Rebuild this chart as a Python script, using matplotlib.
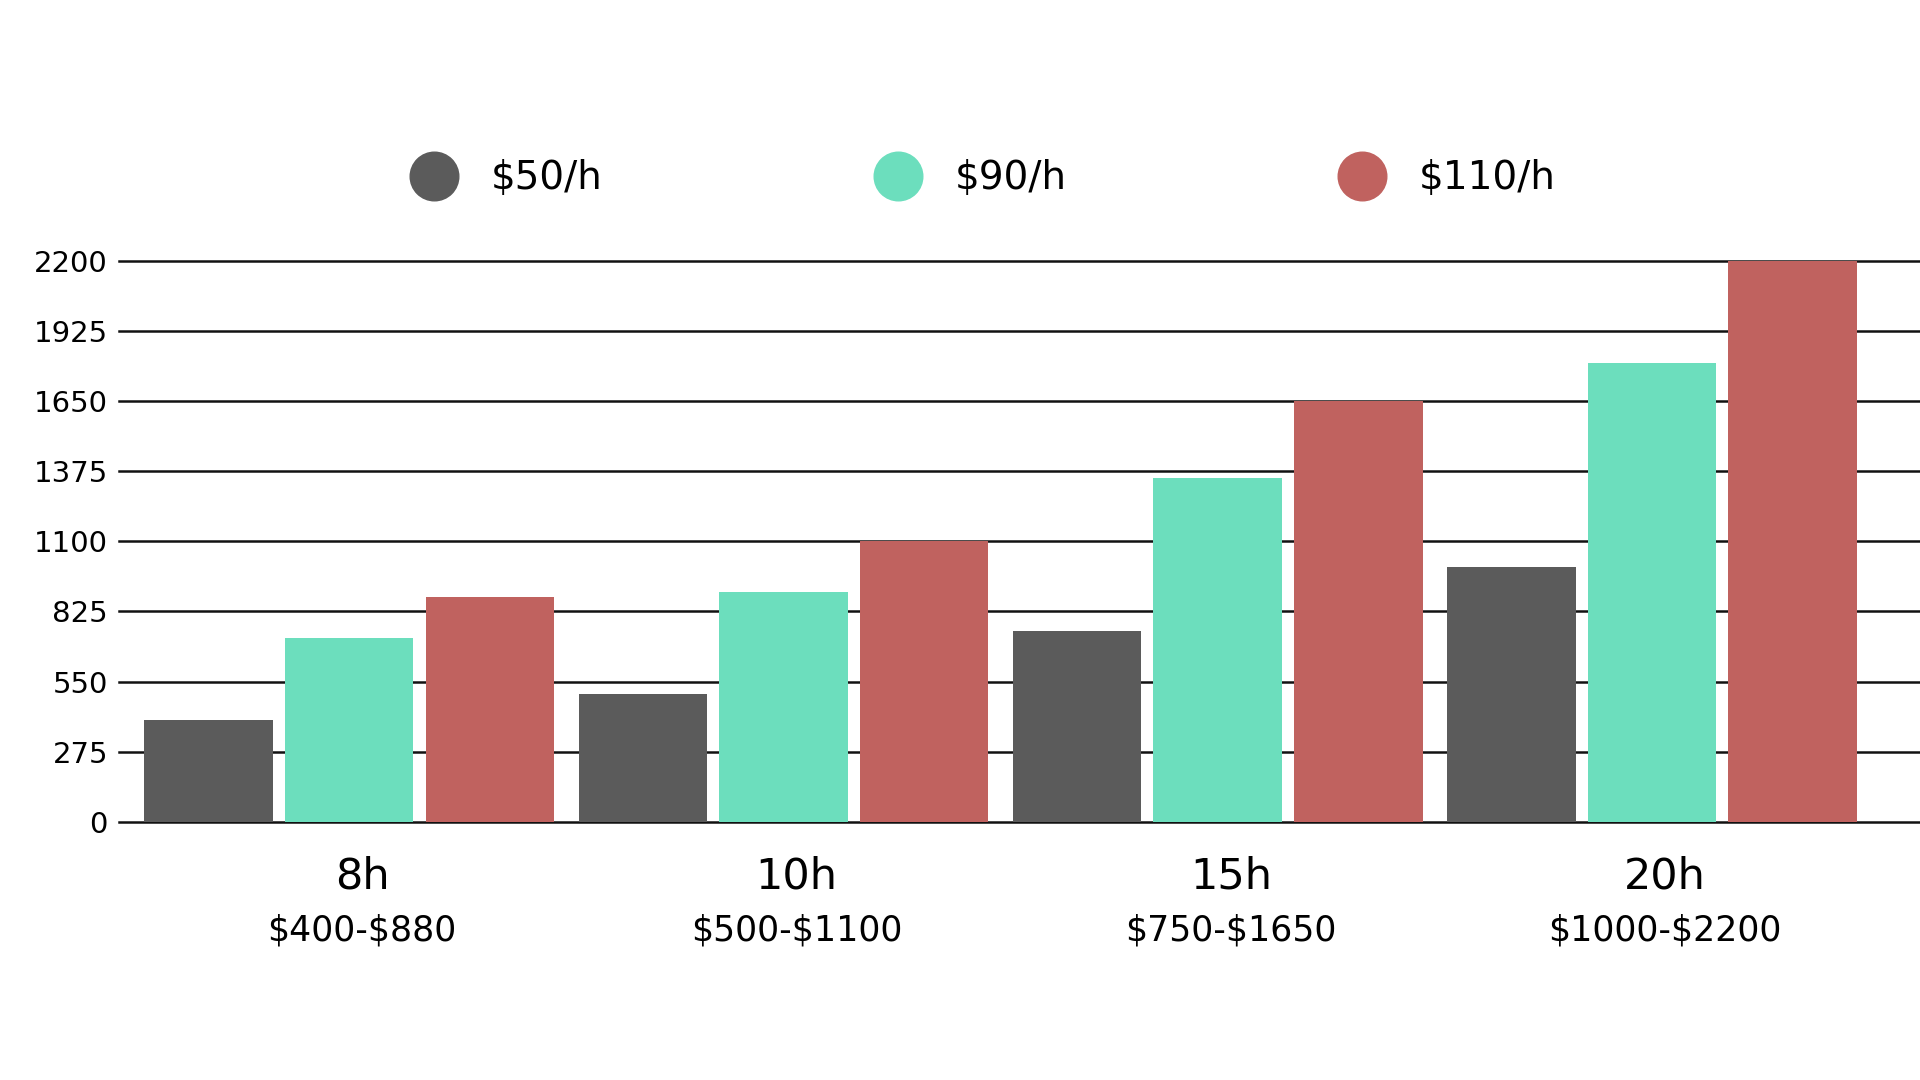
import matplotlib.pyplot as plt
from matplotlib.lines import Line2D
import numpy as np

# data
hours = ['8h', '10h', '15h', '20h']
ranges = ['$400-$880', '$500-$1100', '$750-$1650', '$1000-$2200']
rates = ['$50/h', '$90/h', '$110/h']
earn_50 = [400, 500, 750, 1000]
earn_90 = [720, 900, 1350, 1800]
earn_110 = [880, 1100, 1650, 2200]
y_ticks = [0, 275, 550, 825, 1100, 1375, 1650, 1925, 2200]

colors = ['#5b5b5b', '#6cdebd', '#c0625f']

plt.rcParams['font.family'] = ['DejaVu Sans']
plt.rcParams['text.parse_math'] = False

fig = plt.figure(figsize=(19.2, 10.8), dpi=100)
ax = fig.add_axes([0.062, 0.239, 0.938, 0.5195])

x = np.arange(len(hours))
width = 0.296
step = 0.324
series = [earn_50, earn_90, earn_110]
for i, vals in enumerate(series):
    ax.bar(x + (i - 1) * step, vals, width, color=colors[i], zorder=3)

ax.set_xlim(-0.53, 3.617)
ax.set_ylim(0, 2200)
ax.set_yticks(y_ticks)
ax.set_yticklabels([str(t) for t in y_ticks], fontsize=21)
for t in y_ticks:
    ax.axhline(t, color='#111111', lw=1.8, zorder=1, clip_on=False)

ax.set_xticks(x)
ax.set_xticklabels([''] * len(hours))
for xi, h, r in zip(x, hours, ranges):
    ax.text(xi + 0.03, -0.06, h, transform=ax.get_xaxis_transform(),
            ha='center', va='top', fontsize=31)
    ax.text(xi + 0.03, -0.163, r, transform=ax.get_xaxis_transform(),
            ha='center', va='top', fontsize=25)

ax.tick_params(axis='both', length=0, pad=8)
for s in ax.spines.values():
    s.set_visible(False)

handles = [Line2D([0], [0], marker='o', linestyle='none', markersize=35,
                  markerfacecolor=c, markeredgecolor=c) for c in colors]
fig.legend(handles, rates, loc='center', bbox_to_anchor=(0.508, 0.835),
           ncol=3, frameon=False, fontsize=28, columnspacing=6.6,
           handletextpad=0.45)

fig.savefig('out.png', dpi=100, facecolor='white')
